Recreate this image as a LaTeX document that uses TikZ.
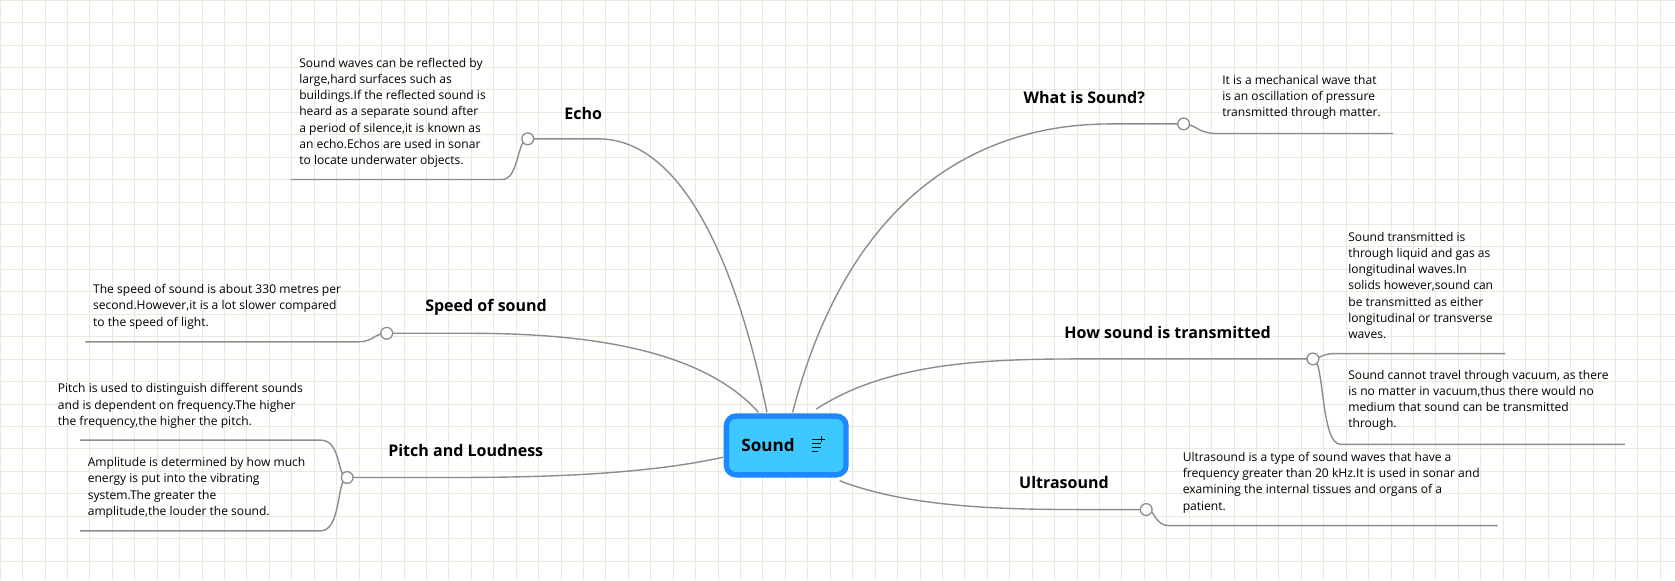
\documentclass[tikz,border=0pt]{standalone}
\usepackage{fontspec}
\setmainfont{Open Sans}
\usepackage{tikz}
\usepackage{xcolor}
\definecolor{gridc}{HTML}{E6ECDC}
\definecolor{linec}{HTML}{8C8C8C}
\definecolor{rootfill}{HTML}{3DC8FF}
\definecolor{rootedge}{HTML}{1E88FF}
\tikzset{
  branch/.style={draw=linec, line width=1.3pt},
  knob/.style={circle, draw=linec, fill=white, line width=1.2pt, minimum size=11pt, inner sep=0pt},
  topic/.style={font=\fontsize{15}{18}\selectfont\bfseries, anchor=center},
  note/.style={anchor=north west, align=left, inner sep=0pt, font=\fontsize{11.3}{15.2}\selectfont}
}
\begin{document}
\begin{tikzpicture}[x=1pt, y=-1pt]
    \useasboundingbox (0,0) rectangle (1568,543);
    \fill [white] (0,0) rectangle (1568,543);
    \foreach \x in {0,21,...,1568} \draw [gridc, line width=0.5pt] (\x,0) -- (\x,543);
    \foreach \y in {0,21,...,543} \draw [gridc, line width=0.5pt] (0,\y) -- (1568,\y);

    %% root
    \node [draw=rootedge, fill=rootfill, line width=5pt, rounded corners=9pt,
      minimum width=112pt, minimum height=55pt] (root) at (736,417) {};
    \node [font=\fontsize{16}{18}\selectfont\bfseries] (rootlbl) at (719,417) {Sound};
    \foreach \y/\w in {411/9, 415/9, 419/9, 423/6}
      \draw [black, line width=1pt] (760,\y) -- ++(\w,0);
    \draw [black, line width=1pt] (769,408) -- (769,414) (766,411) -- (772,411);

    %% topics
    \node [topic] (echo) at (546,106) {Echo};
    \node [topic] (speed) at (455,288) {Speed of sound};
    \node [topic] (pitch) at (436,422) {Pitch and Loudness};
    \node [topic] (what) at (1015,91) {What is Sound?};
    \node [topic] (how) at (1093,311) {How sound is transmitted};
    \node [topic] (ultra) at (996,452) {Ultrasound};

    %% branches from root
    \draw [branch] (718,386) .. controls (690,250) and (640,130) .. (560,130) -- (494,130);
    \draw [branch] (710,386) .. controls (660,330) and (560,312) .. (440,312) -- (362,312);
    \draw [branch] (677,428) .. controls (600,445) and (500,447) .. (420,447) -- (325,447);
    \draw [branch] (742,386) .. controls (790,200) and (900,116) .. (1040,116) -- (1108,116);
    \draw [branch] (764,383) .. controls (830,340) and (920,336) .. (1010,336) -- (1229,336);
    \draw [branch] (786,450) .. controls (850,475) and (940,477) .. (1010,477) -- (1073,477);

    %% note leaders
    \draw [branch] (494,130) .. controls (484,130) and (486,168) .. (470,168) -- (272,168);
    \draw [branch] (362,312) .. controls (350,312) and (350,320) .. (335,320) -- (80,320);
    \draw [branch] (325,447) .. controls (315,447) and (320,412) .. (300,412) -- (75,412);
    \draw [branch] (325,447) .. controls (315,447) and (320,497) .. (300,497) -- (75,497);
    \draw [branch] (1108,116) .. controls (1120,116) and (1120,125) .. (1140,125) -- (1304,125);
    \draw [branch] (1229,336) .. controls (1236,336) and (1236,331) .. (1250,331) -- (1409,331);
    \draw [branch] (1229,336) .. controls (1240,336) and (1236,416) .. (1255,416) -- (1521,416);
    \draw [branch] (1073,477) .. controls (1082,477) and (1080,492) .. (1095,492) -- (1402,492);

    %% knobs
    \node [knob] (k1) at (494,130) {};
    \node [knob] (k2) at (362,312) {};
    \node [knob] (k3) at (325,447) {};
    \node [knob] (k4) at (1108,116) {};
    \node [knob] (k5) at (1229,336) {};
    \node [knob] (k6) at (1073,477) {};

    %% notes
    \node [note] (n1) at (280,54) {Sound waves can be reflected by\\large,hard surfaces such as\\buildings.If the reflected sound is\\heard as a separate sound after\\a period of silence,it is known as\\an echo.Echos are used in sonar\\to locate underwater objects.};
    \node [note] (n2) at (87,266) {The speed of sound is about 330 metres per\\second.However,it is a lot slower compared\\to the speed of light.};
    \node [note] (n3) at (54,359) {Pitch is used to distinguish different sounds\\and is dependent on frequency.The higher\\the frequency,the higher the pitch.};
    \node [note] (n4) at (82,428) {Amplitude is determined by how much\\energy is put into the vibrating\\system.The greater the\\amplitude,the louder the sound.};
    \node [note] (n5) at (1144,70) {It is a mechanical wave that\\is an oscillation of pressure\\transmitted through matter.};
    \node [note] (n6) at (1262,217) {Sound transmitted is\\through liquid and gas as\\longitudinal waves.In\\solids however,sound can\\be transmitted as either\\longitudinal or transverse\\waves.};
    \node [note] (n7) at (1262,346) {Sound cannot travel through vacuum, as there\\is no matter in vacuum,thus there would no\\medium that sound can be transmitted\\through.};
    \node [note] (n8) at (1107,423) {Ultrasound is a type of sound waves that have a\\frequency greater than 20 kHz.It is used in sonar and\\examining the internal tissues and organs of a\\patient.};
\end{tikzpicture}
\end{document}
